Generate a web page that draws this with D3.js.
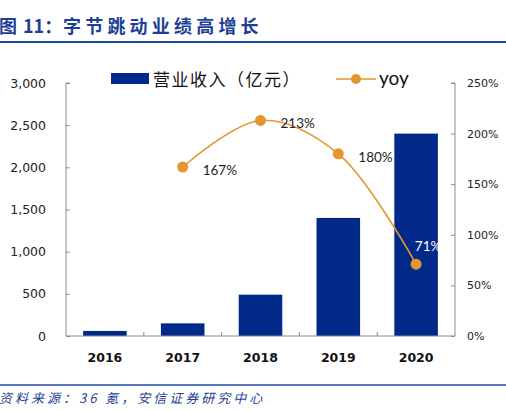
<!DOCTYPE html>
<html>
<head>
<meta charset="utf-8">
<script src="https://cdn.jsdelivr.net/npm/d3@7"></script>
<style>
  body { margin: 0; background: #fff; }
  svg { display: block; }
</style>
</head>
<body>
<svg width="506" height="410"></svg>
<script>
// data
var years = ["2016", "2017", "2018", "2019", "2020"];
var revenue = [60, 150, 490, 1400, 2400];      // 营业收入（亿元）
var yoy = [null, 167, 213, 180, 71];           // %
var leftTicks = [0, 500, 1000, 1500, 2000, 2500, 3000];
var rightTicks = [0, 50, 100, 150, 200, 250];

var svg = d3.select("svg");
var blue = "#00298a", orange = "#e3962f", titleBlue = "#1f3f96";
var cjk = "'Noto Sans CJK SC', sans-serif";
var num = "'DejaVu Sans', sans-serif";

var x0 = 66, x1 = 455, yTop = 83, yBot = 336;

var x = d3.scaleBand().domain(years).range([x0, x1]).paddingInner(0.44).paddingOuter(0.22);
var y = d3.scaleLinear().domain([0, 3000]).range([yBot, yTop]);
var y2 = d3.scaleLinear().domain([0, 250]).range([yBot, yTop]);

// title
var title = svg.append("text").attr("y", 33)
  .attr("font-family", cjk).attr("font-weight", "bold").attr("font-size", 18)
  .attr("fill", titleBlue);
title.append("tspan").attr("x", -1).text("图");
title.append("tspan").attr("x", 23).text("11：");
title.append("tspan").attr("x", 63).attr("letter-spacing", 4.2).text("字节跳动业绩高增长");
svg.append("line").attr("x1", 0).attr("x2", 506).attr("y1", 42).attr("y2", 42)
  .attr("stroke", "#1d48a8").attr("stroke-width", 2);

// bars
svg.selectAll("rect.bar").data(revenue).enter().append("rect")
  .attr("class", "bar")
  .attr("x", function (d, i) { return x(years[i]); })
  .attr("y", function (d) { return y(d); })
  .attr("width", x.bandwidth())
  .attr("height", function (d) { return yBot - y(d); })
  .attr("fill", blue);

// axes
var axisCol = "#8c8c8c";
var gl = svg.append("g").attr("transform", "translate(" + x0 + ",0)")
  .call(d3.axisRight(y).tickValues(leftTicks).tickSize(4).tickFormat(""));
var gr = svg.append("g").attr("transform", "translate(" + x1 + ",0)")
  .call(d3.axisLeft(y2).tickValues(rightTicks).tickSize(4).tickFormat(""));
[gl, gr].forEach(function (g) {
  g.select(".domain").attr("stroke", axisCol).attr("d", g === gl ? "M4," + yTop + "H0V" + yBot : "M-4," + yTop + "H0V" + yBot);
  g.selectAll(".tick line").attr("stroke", axisCol);
});

// x axis line with ticks between categories
var bounds = d3.range(years.length + 1).map(function (i) { return x0 + i * (x1 - x0) / years.length; });
svg.append("line").attr("x1", x0).attr("x2", x1).attr("y1", yBot).attr("y2", yBot).attr("stroke", axisCol);
svg.selectAll("line.xt").data(bounds.slice(1, -1)).enter().append("line")
  .attr("x1", function (d) { return d; }).attr("x2", function (d) { return d; })
  .attr("y1", yBot).attr("y2", yBot - 4).attr("stroke", axisCol);

// tick labels
svg.selectAll("text.yl").data(leftTicks).enter().append("text")
  .attr("x", 46).attr("y", function (d) { return y(d) + 4.5; })
  .attr("text-anchor", "end").attr("font-family", num).attr("font-size", 12.5).attr("fill", "#222")
  .text(d3.format(","));
svg.selectAll("text.yr").data(rightTicks).enter().append("text")
  .attr("x", 467).attr("y", function (d) { return y2(d) + 4; })
  .attr("font-family", num).attr("font-size", 11).attr("fill", "#222")
  .text(function (d) { return d + "%"; });
svg.selectAll("text.xl").data(years).enter().append("text")
  .attr("x", function (d) { return x(d) + x.bandwidth() / 2; }).attr("y", 362)
  .attr("text-anchor", "middle").attr("font-family", num).attr("font-weight", "bold")
  .attr("font-size", 12.5).attr("fill", "#111")
  .text(function (d) { return d; });

// yoy line
var pts = years.map(function (d, i) { return { year: d, v: yoy[i] }; }).filter(function (p) { return p.v !== null; });
var line = d3.line()
  .x(function (p) { return x(p.year) + x.bandwidth() / 2; })
  .y(function (p) { return y2(p.v); })
  .curve(d3.curveCatmullRom.alpha(0.5));
svg.append("path").datum(pts).attr("d", line)
  .attr("fill", "none").attr("stroke", orange).attr("stroke-width", 1.6);
svg.selectAll("circle.pt").data(pts).enter().append("circle")
  .attr("cx", function (p) { return x(p.year) + x.bandwidth() / 2; })
  .attr("cy", function (p) { return y2(p.v); })
  .attr("r", 5.5).attr("fill", orange);

// data labels: right of the point, the last one above it in white
svg.selectAll("text.dl").data(pts).enter().append("text")
  .attr("x", function (p, i) { return x(p.year) + x.bandwidth() / 2 + (i === pts.length - 1 ? 12 : 20); })
  .attr("y", function (p, i) { return y2(p.v) + (i === pts.length - 1 ? -13 : 8); })
  .attr("text-anchor", function (p, i) { return i === pts.length - 1 ? "middle" : "start"; })
  .attr("font-family", "Lato, sans-serif").attr("font-size", 13.5)
  .attr("fill", function (p, i) { return i === pts.length - 1 ? "#fff" : "#222"; })
  .text(function (p) { return p.v + "%"; });

// legend
svg.append("rect").attr("x", 111).attr("y", 73).attr("width", 38).attr("height", 11).attr("fill", blue);
svg.append("text").attr("x", 153).attr("y", 86).attr("font-family", cjk).attr("font-size", 17)
  .attr("letter-spacing", 1.5).attr("fill", "#111").text("营业收入（亿元）");
svg.append("line").attr("x1", 336).attr("x2", 376).attr("y1", 79).attr("y2", 79)
  .attr("stroke", orange).attr("stroke-width", 1.6);
svg.append("circle").attr("cx", 356).attr("cy", 79).attr("r", 5).attr("fill", orange);
svg.append("text").attr("x", 379).attr("y", 85).attr("font-family", "Lato, sans-serif").attr("font-size", 19)
  .attr("fill", "#111").text("yoy");

// source
svg.append("line").attr("x1", 0).attr("x2", 506).attr("y1", 385).attr("y2", 385)
  .attr("stroke", "#1d48a8").attr("stroke-width", 1.5);
svg.append("text").attr("x", -1).attr("y", 403).attr("font-family", cjk).attr("font-size", 13)
  .attr("font-style", "italic").attr("letter-spacing", 3).attr("fill", titleBlue)
  .text("资料来源：36 氪，安信证券研究中心");
</script>
</body>
</html>
